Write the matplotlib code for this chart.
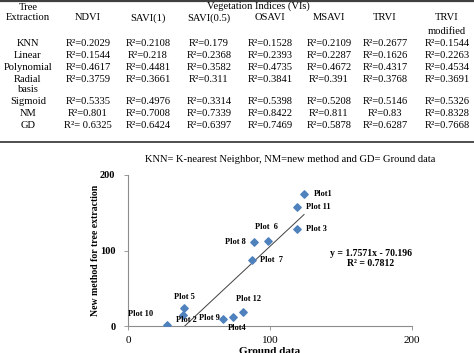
import matplotlib.pyplot as plt

# table data
row_names = ['KNN', 'Linear', 'Polynomial', 'Radial\nbasis', 'Sigmoid', 'NM', 'GD']
col_names = ['NDVI', 'SAVI(1)', 'SAVI(0.5)', 'OSAVI', 'MSAVI', 'TRVI', 'TRVI\nmodified']
ndvi = ['0.2029', '0.1544', '0.4617', '0.3759', '0.5335', '0.801', ' 0.6325']
savi1 = ['0.2108', '0.218', '0.4481', '0.3661', '0.4976', '0.7008', '0.6424']
savi05 = ['0.179', '0.2368', '0.3582', '0.311', '0.3314', '0.7339', '0.6397']
osavi = ['0.1528', '0.2393', '0.4735', '0.3841', '0.5398', '0.8422', '0.7469']
msavi = ['0.2109', '0.2287', '0.4672', '0.391', '0.5208', '0.811', '0.5878']
trvi = ['0.2677', '0.1626', '0.4317', '0.3768', '0.5146', '0.83', '0.6287']
trvi_mod = ['0.1544', '0.2263', '0.4534', '0.3691', '0.5326', '0.8328', '0.7668']

# scatter data
ground = [124, 38.5, 118.8, 74, 39.7, 98.8, 87, 89, 67, 27.7, 118.8, 80.7]
new_method = [175, 15, 128, 12.3, 24.3, 112.6, 87.4, 111.7, 9.3, 1, 158, 18]
plot_names = ['Plot1', 'Plot 2', 'Plot 3', 'Plot4', 'Plot 5', 'Plot  6', 'Plot  7',
              'Plot 8', 'Plot 9', 'Plot 10', 'Plot 11', 'Plot 12']
slope, intercept, r2 = 1.7571, -70.196, 0.7812

plt.rcParams['font.family'] = ['Liberation Serif', 'DejaVu Serif']

W, H = 474, 353
fig = plt.figure(figsize=(W / 100, H / 100), dpi=100)

def fx(px):
    return px / W

def fy(py):
    return 1 - py / H

fs = 7.6
# header
fig.text(fx(28), fy(7), 'Tree', ha='center', va='center', fontsize=fs)
fig.text(fx(28), fy(18), 'Extraction', ha='center', va='center', fontsize=fs)
fig.text(fx(258), fy(6), 'Vegetation Indices (VIs)', ha='center', va='center', fontsize=fs)
col_x = [88, 148, 209, 270, 329, 385, 447]
for cx, name in zip(col_x, col_names):
    parts = name.split('\n')
    fig.text(fx(cx), fy(18), parts[0], ha='center', va='center', fontsize=fs)
    if len(parts) > 1:
        fig.text(fx(cx), fy(31), parts[1], ha='center', va='center', fontsize=fs)

row_y = [43, 55, 67, 79, 102, 114, 126]
cols = [ndvi, savi1, savi05, osavi, msavi, trvi, trvi_mod]
for i, (ry, rn) in enumerate(zip(row_y, row_names)):
    parts = rn.split('\n')
    fig.text(fx(28), fy(ry), parts[0], ha='center', va='center', fontsize=fs)
    if len(parts) > 1:
        fig.text(fx(28), fy(ry + 11), parts[1], ha='center', va='center', fontsize=fs)
    for cx, col in zip(col_x, cols):
        fig.text(fx(cx), fy(ry), 'R²=' + col[i], ha='center', va='center', fontsize=fs)

# rules
fig.add_artist(plt.Line2D([0, 1], [fy(0.8), fy(0.8)], color='#404040', lw=1.6))
fig.add_artist(plt.Line2D([0, 1], [fy(141.5), fy(141.5)], color='#303030', lw=1.2))
fig.text(fx(290), fy(160), 'KNN= K-nearest Neighbor, NM=new method and GD= Ground data',
         ha='center', va='center', fontsize=fs)

# scatter
ax = fig.add_axes([fx(128), fy(326), fx(412) - fx(128), fy(175) - fy(326)])
ax.scatter(ground, new_method, marker='D', s=14, color='#4f81bd', zorder=3)
xs = [min(ground), max(ground)]
ax.plot(xs, [slope * x + intercept for x in xs], color='#404040', lw=0.7)
ax.set_xlim(0, 200)
ax.set_ylim(0, 200)
ax.set_xticks([0, 100, 200])
ax.set_yticks([0, 100, 200])
ax.set_xticklabels(['0', '100', '200'], fontsize=8)
ax.set_yticklabels(['0', '100', '200'], fontsize=7.5, fontweight='bold')
for s in ['top', 'right']:
    ax.spines[s].set_visible(False)
for s in ['left', 'bottom']:
    ax.spines[s].set_color('#8c8c8c')
    ax.spines[s].set_linewidth(0.8)
ax.tick_params(length=3, width=0.6, color='#8c8c8c', pad=6)
ax.tick_params(axis='x', pad=4)

offsets = {
    'Plot1': (7, 0, 'left', 'center'),
    'Plot 2': (-5, -4, 'left', 'center'),
    'Plot 3': (7, 0, 'left', 'center'),
    'Plot4': (3, -8, 'center', 'center'),
    'Plot 5': (0, 8, 'center', 'center'),
    'Plot  6': (-1, 10, 'center', 'center'),
    'Plot  7': (6, 0, 'left', 'center'),
    'Plot 8': (-6, 0, 'right', 'center'),
    'Plot 9': (-2.5, 1, 'right', 'center'),
    'Plot 10': (-10, 8, 'right', 'center'),
    'Plot 11': (7, 0, 'left', 'center'),
    'Plot 12': (4, 10, 'center', 'center'),
}
for gx, ny, name in zip(ground, new_method, plot_names):
    dx, dy, ha, va = offsets[name]
    ax.annotate(name, (gx, ny), xytext=(dx, dy), textcoords='offset points',
                ha=ha, va=va, fontsize=6, fontweight='bold', annotation_clip=False)

fig.text(fx(371), fy(253), 'y = 1.7571x - 70.196', ha='center', va='center',
         fontsize=7, fontweight='bold')
fig.text(fx(371), fy(264), 'R² = 0.7812', ha='center', va='center',
         fontsize=7, fontweight='bold')
fig.text(fx(95), fy(250), 'New method for tree extraction', ha='center', va='center',
         rotation=90, fontsize=7, fontweight='bold')
fig.text(fx(270), fy(347), 'Ground data', ha='center', va='top',
         fontsize=8, fontweight='bold')

fig.savefig('out.png', dpi=100)
